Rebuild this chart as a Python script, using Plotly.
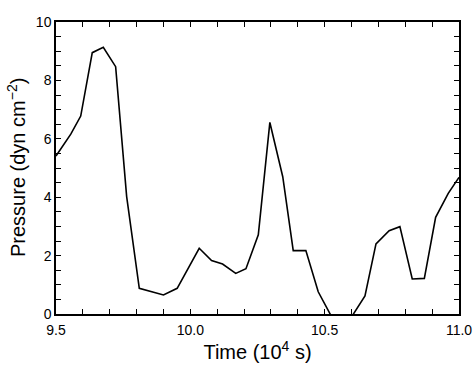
import plotly.graph_objects as go

time = [9.500, 9.555, 9.592, 9.635, 9.676, 9.722, 9.763, 9.810, 9.900, 9.951,
        10.033, 10.079, 10.120, 10.169, 10.207, 10.253, 10.296, 10.344, 10.383, 10.430,
        10.476, 10.560, 10.650, 10.691, 10.740, 10.780, 10.826, 10.871, 10.913, 10.960, 11.000]
pressure = [5.41, 6.16, 6.78, 8.95, 9.13, 8.47, 4.02, 0.88, 0.65, 0.88,
            2.25, 1.83, 1.71, 1.39, 1.55, 2.71, 6.56, 4.70, 2.17, 2.17,
            0.76, -0.68, 0.62, 2.40, 2.85, 2.99, 1.20, 1.22, 3.31, 4.13, 4.68]

FONT = "Liberation Sans, Arial, Helvetica, sans-serif"

fig = go.Figure()
fig.add_trace(go.Scatter(x=time, y=pressure, mode="lines",
                         line=dict(color="black", width=1.6), showlegend=False))

axis_common = dict(
    showgrid=False, zeroline=False, showline=True, linecolor="black", linewidth=1.5,
    mirror="ticks", ticks="inside", ticklen=5, tickwidth=1.3, tickcolor="black",
    tickfont=dict(family=FONT, size=14, color="black"), automargin=False,
)

fig.update_xaxes(
    range=[9.5, 11.0], tick0=9.5, dtick=0.5, tickformat=".1f", ticklabelstandoff=2,
    minor=dict(dtick=0.1, ticks="inside", ticklen=5, tickwidth=1.3, tickcolor="black", showgrid=False),
    title=dict(text="Time (10<sup>4</sup> s)", font=dict(family=FONT, size=20, color="black"), standoff=4),
    **axis_common,
)
fig.update_yaxes(
    range=[0, 10], tick0=0, dtick=2,
    minor=dict(dtick=0.5, ticks="inside", ticklen=5, tickwidth=1.3, tickcolor="black", showgrid=False),
    **axis_common,
)

fig.add_annotation(
    text="Pressure (dyn cm<sup>−2</sup>)", textangle=-90, showarrow=False,
    xref="paper", yref="paper", x=(16 - 56) / 403, y=0.5,
    xanchor="center", yanchor="middle",
    font=dict(family=FONT, size=20, color="black"),
)

fig.update_layout(
    width=474, height=368,
    margin=dict(l=56, r=15, t=22, b=54),
    paper_bgcolor="white", plot_bgcolor="white",
)

fig.write_html("out.html")
